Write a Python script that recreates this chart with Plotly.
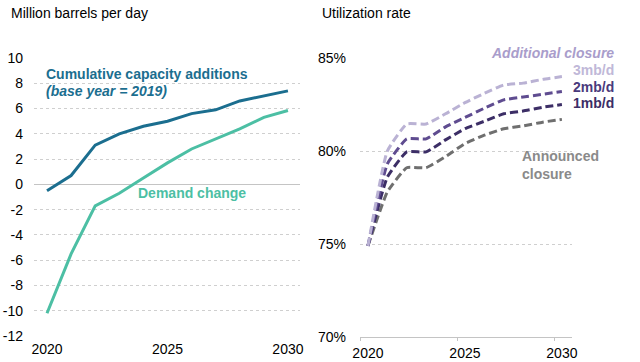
import plotly.graph_objects as go

# ---- data ----
years = list(range(2020, 2031))
capacity_additions = [-0.5, 0.7, 3.1, 4.0, 4.6, 5.0, 5.6, 5.9, 6.6, 7.0, 7.4]
demand_change = [-10.2, -5.5, -1.7, -0.7, 0.5, 1.7, 2.8, 3.6, 4.4, 5.3, 5.85]

util_announced = [74.9, 77.8, 79.1, 79.1, 79.7, 80.4, 80.85, 81.2, 81.35, 81.55, 81.7]
util_1mb = [74.9, 78.6, 79.95, 79.95, 80.6, 81.2, 81.6, 82.0, 82.15, 82.35, 82.5]
util_2mb = [74.9, 79.3, 80.65, 80.65, 81.3, 81.8, 82.3, 82.75, 82.9, 83.05, 83.2]
util_3mb = [74.9, 80.0, 81.45, 81.45, 82.0, 82.6, 83.1, 83.55, 83.65, 83.85, 84.0]

left_yticks = list(range(-12, 11, 2))
left_yticklabels = [str(v) for v in left_yticks]
right_yticks = [70, 75, 80, 85]
right_yticklabels = ["70%", "75%", "80%", "85%"]
xticks = [2020, 2025, 2030]

FONT = "Arial, Liberation Sans, sans-serif"
C_CAP = "#1b6e8f"
C_DEM = "#4cbfa4"
C_3MB = "#bab2d4"
C_2MB = "#5f4c90"
C_1MB = "#3c2e66"
C_ANN = "#6f6f6f"

fig = go.Figure()

fig.add_trace(go.Scatter(x=years, y=capacity_additions, mode="lines",
                         line=dict(color=C_CAP, width=3), xaxis="x", yaxis="y",
                         hoverinfo="skip"))
fig.add_trace(go.Scatter(x=years, y=demand_change, mode="lines",
                         line=dict(color=C_DEM, width=3), xaxis="x", yaxis="y",
                         hoverinfo="skip"))

for vals, col in [(util_announced, C_ANN), (util_1mb, C_1MB),
                  (util_2mb, C_2MB), (util_3mb, C_3MB)]:
    fig.add_trace(go.Scatter(x=years, y=vals, mode="lines",
                             line=dict(color=col, width=3, dash="8px,4px",
                                       shape="spline", smoothing=0.4),
                             xaxis="x2", yaxis="y2", hoverinfo="skip"))

W, H = 640, 362
def px(x):
    return x / W
def py(y):
    return 1 - y / H

grid = dict(showgrid=True, gridcolor="#cfcfcf", griddash="dot", gridwidth=1)
tickfont = dict(family=FONT, size=14, color="#000000")

fig.update_layout(
    width=W, height=H,
    margin=dict(l=0, r=0, t=0, b=0, autoexpand=False),
    paper_bgcolor="white", plot_bgcolor="white",
    showlegend=False,
    xaxis=dict(domain=[px(34), px(300)], range=[2019.46, 2030.5],
               tickvals=xticks, showgrid=False, zeroline=False, showline=False,
               ticks="", tickfont=tickfont, ticklabelstandoff=3,
               anchor="y", fixedrange=True, automargin=False),
    yaxis=dict(domain=[py(336), py(58)], range=[-12, 10],
               tickvals=left_yticks, ticktext=left_yticklabels, **grid,
               zeroline=True, zerolinecolor="#c4c4c4", zerolinewidth=1,
               showline=False, ticks="", tickfont=tickfont,
               ticklabelstandoff=10, anchor="x", fixedrange=True,
               automargin=False),
    xaxis2=dict(domain=[px(360), px(572)], range=[2019.59, 2030.52],
                tickvals=xticks, showgrid=False, zeroline=False,
                showline=True, linecolor="#c4c4c4", linewidth=1,
                ticks="", tickfont=tickfont, ticklabelstandoff=3,
                minor=dict(tickvals=[2019.6, 2024.6, 2029.6], ticks="outside",
                           ticklen=3, tickcolor="#c4c4c4", showgrid=False),
                anchor="y2", fixedrange=True, automargin=False),
    yaxis2=dict(domain=[py(337), py(58)], range=[70, 85],
                tickvals=right_yticks, ticktext=right_yticklabels, **grid,
                zeroline=False, showline=False, ticks="", tickfont=tickfont,
                ticklabelstandoff=13, anchor="x2", fixedrange=True,
                automargin=False),
)

def ann(text, x, y, color, size=14, xanchor="left", bold=True, italic=False,
        yanchor="middle", align="left"):
    t = text
    if italic:
        t = "<i>" + t + "</i>"
    if bold:
        t = "<b>" + t + "</b>"
    fig.add_annotation(text=t, x=px(x), y=py(y), xref="paper", yref="paper",
                       xanchor=xanchor, yanchor=yanchor, showarrow=False,
                       align=align,
                       font=dict(family=FONT, size=size, color=color))

# titles
ann("Million barrels per day", 9, 13, "#000000", size=14, bold=False)
ann("Utilization rate", 320, 13, "#000000", size=14, bold=False)

# left labels
ann("Cumulative capacity additions", 44, 74, C_CAP)
ann("(base year = 2019)", 44, 91, C_CAP, italic=True)
ann("Demand change", 136, 193, C_DEM)

# right labels
ann("Additional closure", 616, 53, "#a99dcb", xanchor="right", italic=True)
ann("3mb/d", 616, 70, "#c0b8d8", xanchor="right")
ann("2mb/d", 616, 87, "#4a3a7c", xanchor="right")
ann("1mb/d", 616, 103, "#3b2d66", xanchor="right")
ann("Announced<br>closure", 520, 165, "#8a8a8a")

fig.write_html(
    "out.html",
    config={"displayModeBar": False},
    post_script="document.body.style.margin='0';document.body.style.overflow='hidden';",
)
